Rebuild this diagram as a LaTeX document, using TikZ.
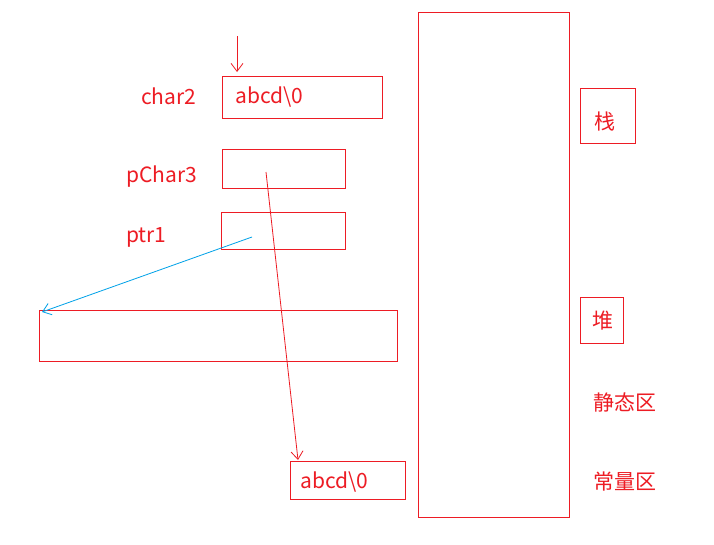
\documentclass[tikz,border=0pt]{standalone}
\usepackage{fontspec}
\setmainfont{Noto Sans CJK SC}
\usetikzlibrary{arrows.meta}
\definecolor{rd}{RGB}{237,28,36}
\definecolor{bl}{RGB}{0,162,232}
\begin{document}
\begin{tikzpicture}[x=1pt,y=-1pt,
  box/.style={draw=rd,line width=0.8pt},
  lbl/.style={text=rd,font=\fontsize{21}{24}\selectfont,inner sep=0pt,anchor=west},
  arr/.style={line width=0.8pt,-{Straight Barb[length=8pt,width=12pt]}}]
\useasboundingbox[fill=white] (0,0) rectangle (714,544);
\draw[box] (418,12) rectangle (569,517);
\draw[box] (222,76) rectangle (382,118);
\node[lbl] (s1) at (235,97) {abcd\textbackslash0};
\node[lbl] (c2) at (141,96) {char2};
\coordinate (t0) at (237,36); \coordinate (t1) at (237,72);
\draw[arr,draw=rd] (t0) -- (t1);
\draw[box] (222,149) rectangle (345,188);
\node[lbl] (pc) at (126,177) {pChar3};
\draw[box] (221,212) rectangle (345,249);
\node[lbl] (p1) at (126,237) {ptr1};
\draw[box] (39,310) rectangle (397,361);
\draw[box] (290,461) rectangle (405,499);
\node[lbl] (s2) at (300,482) {abcd\textbackslash0};
\coordinate (b0) at (252,237); \coordinate (b1) at (42,312);
\draw[arr,draw=bl] (b0) -- (b1);
\coordinate (r0) at (266,172); \coordinate (r1) at (298,460);
\draw[arr,draw=rd] (r0) -- (r1);
\draw[box] (580,88) rectangle (635,143);
\node[lbl,anchor=center] (z) at (605,122) {栈};
\draw[box] (580,297) rectangle (623,343);
\node[lbl,anchor=center] (d) at (603,321) {堆};
\node[lbl] (j) at (593,402) {静态区};
\node[lbl] (c) at (593,481) {常量区};
\end{tikzpicture}
\end{document}
